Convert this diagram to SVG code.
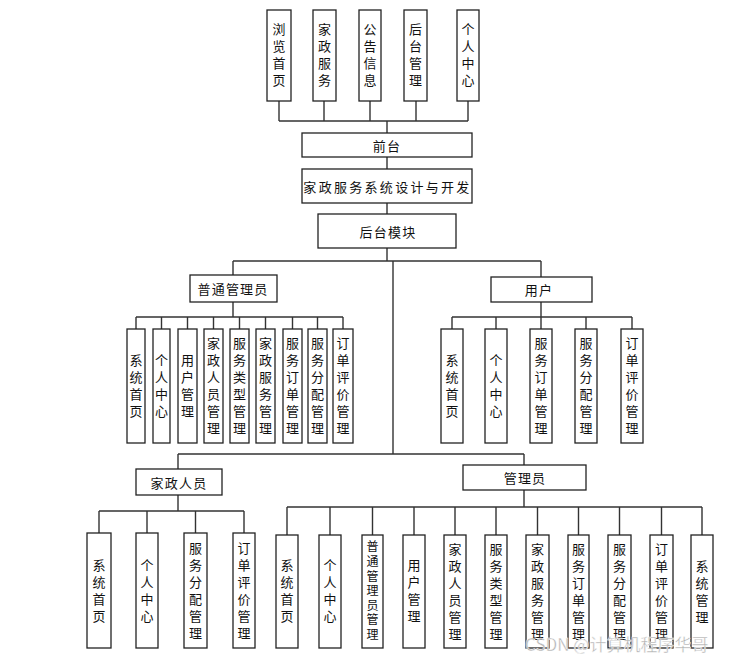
<svg xmlns="http://www.w3.org/2000/svg" width="751" height="663" viewBox="0 0 751 663">
<style>
.bx{fill:#fff;stroke:#222;stroke-width:1.3}
.ln{fill:none;stroke:#333;stroke-width:1.4}
text{font-family:"Noto Sans CJK SC","Noto Sans CJK JP",sans-serif;font-size:13px;fill:#111}
.h{text-anchor:middle;dominant-baseline:central;letter-spacing:1.2px}
.v{writing-mode:vertical-rl;text-anchor:middle;letter-spacing:4px}
.wm{font-size:17px;fill:#b0b0b0;stroke:#fff;stroke-width:0.4}
</style>
<rect width="751" height="663" fill="#fff"/>
<g id="connectors" class="ln">
<path d="M279 101V121M324 101V121M370 101V121M416 101V121M468 101V121M279 121H468M387 121V133"/>
<path d="M387 157V169M387 203V214M387 248V261"/>
<path d="M233 261H541M233 261V275M541 261V277M393 261V454"/>
<path d="M178 454H524M178 454V469M524 454V465"/>
<path d="M233 302V317M136 317H343M136 317V329M161.5 317V329M187.5 317V329M213.5 317V329M239.5 317V329M265.5 317V329M292.5 317V329M317.5 317V329M343 317V329"/>
<path d="M541 302V317M452 317H632M452 317V329M496 317V329M541 317V329M586 317V329M632 317V329"/>
<path d="M178 495V511M99 511H244M99 511V533M147 511V533M195.5 511V533M244 511V533"/>
<path d="M524 490V507M287 507H702M287 507V535M330 507V535M372.5 507V535M414 507V535M455 507V535M496 507V535M537.5 507V535M578.5 507V535M619.5 507V535M661.5 507V535M702 507V535"/>
</g>
<g id="top1"><rect class="bx" x="267" y="10" width="24" height="91"/><text class="v" x="279" y="56.5">浏览首页</text></g>
<g id="top2"><rect class="bx" x="313" y="10" width="23" height="91"/><text class="v" x="324.5" y="56.5">家政服务</text></g>
<g id="top3"><rect class="bx" x="359" y="10" width="22" height="91"/><text class="v" x="370" y="56.5">公告信息</text></g>
<g id="top4"><rect class="bx" x="404" y="10" width="23" height="91"/><text class="v" x="415.5" y="56.5">后台管理</text></g>
<g id="top5"><rect class="bx" x="457" y="10" width="22" height="91"/><text class="v" x="468" y="56.5">个人中心</text></g>
<g id="qiantai"><rect class="bx" x="302" y="133" width="170" height="24"/><text class="h" x="387" y="145">前台</text></g>
<g id="root"><rect class="bx" x="302" y="169" width="170" height="34"/><text class="h" x="387.5" y="186" style="letter-spacing:2.3px">家政服务系统设计与开发</text></g>
<g id="houtai"><rect class="bx" x="318" y="214" width="138" height="34"/><text class="h" x="388" y="231">后台模块</text></g>
<g id="putong"><rect class="bx" x="190" y="275" width="87" height="27"/><text class="h" x="233" y="288.5">普通管理员</text></g>
<g id="yonghu"><rect class="bx" x="491" y="277" width="101" height="25"/><text class="h" x="539" y="289.5">用户</text></g>
<g id="jiazheng"><rect class="bx" x="136" y="469" width="86" height="26"/><text class="h" x="179" y="482">家政人员</text></g>
<g id="guanli"><rect class="bx" x="463" y="465" width="123" height="25"/><text class="h" x="525" y="477.5">管理员</text></g>

<g id="p1"><rect class="bx" x="127" y="329" width="18" height="114"/><text class="v" x="136" y="388">系统首页</text></g>
<g id="p2"><rect class="bx" x="153" y="329" width="17" height="114"/><text class="v" x="161.5" y="388">个人中心</text></g>
<g id="p3"><rect class="bx" x="178" y="329" width="19" height="114"/><text class="v" x="187.5" y="388">用户管理</text></g>
<g id="p4"><rect class="bx" x="204" y="329" width="19" height="114"/><text class="v" x="213.5" y="388">家政人员管理</text></g>
<g id="p5"><rect class="bx" x="230" y="329" width="19" height="114"/><text class="v" x="239.5" y="388">服务类型管理</text></g>
<g id="p6"><rect class="bx" x="256" y="329" width="19" height="114"/><text class="v" x="265.5" y="388">家政服务管理</text></g>
<g id="p7"><rect class="bx" x="283" y="329" width="19" height="114"/><text class="v" x="292.5" y="388">服务订单管理</text></g>
<g id="p8"><rect class="bx" x="308" y="329" width="19" height="114"/><text class="v" x="317.5" y="388">服务分配管理</text></g>
<g id="p9"><rect class="bx" x="333" y="329" width="20" height="114"/><text class="v" x="343" y="388">订单评价管理</text></g>

<g id="u1"><rect class="bx" x="441" y="329" width="22" height="114"/><text class="v" x="452" y="388">系统首页</text></g>
<g id="u2"><rect class="bx" x="485" y="329" width="22" height="114"/><text class="v" x="496" y="388">个人中心</text></g>
<g id="u3"><rect class="bx" x="530" y="329" width="22" height="114"/><text class="v" x="541" y="388">服务订单管理</text></g>
<g id="u4"><rect class="bx" x="575" y="329" width="22" height="114"/><text class="v" x="586" y="388">服务分配管理</text></g>
<g id="u5"><rect class="bx" x="621" y="329" width="22" height="114"/><text class="v" x="632" y="388">订单评价管理</text></g>

<g id="j1"><rect class="bx" x="87" y="533" width="24" height="115"/><text class="v" x="99" y="592.5">系统首页</text></g>
<g id="j2"><rect class="bx" x="136" y="533" width="22" height="115"/><text class="v" x="147" y="592.5">个人中心</text></g>
<g id="j3"><rect class="bx" x="184" y="533" width="23" height="115"/><text class="v" x="195.5" y="592.5">服务分配管理</text></g>
<g id="j4"><rect class="bx" x="233" y="533" width="22" height="115"/><text class="v" x="244" y="592.5">订单评价管理</text></g>

<g id="g1"><rect class="bx" x="276" y="535" width="22" height="113"/><text class="v" x="287" y="593">系统首页</text></g>
<g id="g2"><rect class="bx" x="319" y="535" width="22" height="113"/><text class="v" x="330" y="593">个人中心</text></g>
<g id="g3"><rect class="bx" x="362" y="535" width="21" height="113"/><text class="v" x="372.5" y="592" style="font-size:12px;letter-spacing:2.6px">普通管理员管理</text></g>
<g id="g4"><rect class="bx" x="403" y="535" width="22" height="113"/><text class="v" x="414" y="593">用户管理</text></g>
<g id="g5"><rect class="bx" x="444" y="535" width="22" height="113"/><text class="v" x="455" y="593.5">家政人员管理</text></g>
<g id="g6"><rect class="bx" x="485" y="535" width="22" height="113"/><text class="v" x="496" y="593.5">服务类型管理</text></g>
<g id="g7"><rect class="bx" x="526" y="535" width="23" height="113"/><text class="v" x="537.5" y="593.5">家政服务管理</text></g>
<g id="g8"><rect class="bx" x="568" y="535" width="21" height="113"/><text class="v" x="578.5" y="593.5">服务订单管理</text></g>
<g id="g9"><rect class="bx" x="608" y="535" width="23" height="113"/><text class="v" x="619.5" y="593.5">服务分配管理</text></g>
<g id="g10"><rect class="bx" x="650" y="535" width="23" height="113"/><text class="v" x="661.5" y="593.5">订单评价管理</text></g>
<g id="g11"><rect class="bx" x="691" y="535" width="22" height="113"/><text class="v" x="702" y="594">系统管理</text></g>
<text class="wm" x="525" y="651">CSDN @计算机程序华哥</text>
</svg>
